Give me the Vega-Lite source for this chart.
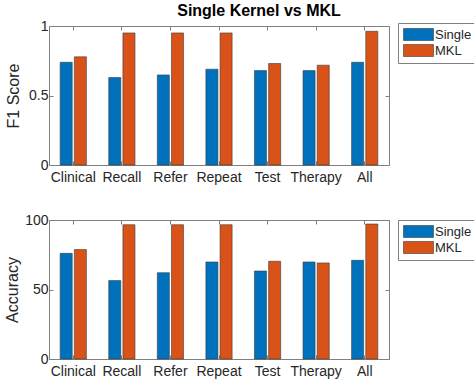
{
  "$schema": "https://vega.github.io/schema/vega-lite/v6.json",
  "autosize": {"type": "none"},
  "padding": {"left": 49, "top": 26, "right": 425, "bottom": 355},
  "background": "white",
  "config": {
    "font": "Liberation Sans",
    "view": {"stroke": "#808080", "strokeWidth": 1},
    "axis": {
      "labelFont": "Liberation Sans",
      "titleFont": "Liberation Sans",
      "labelColor": "#262626",
      "titleColor": "#262626",
      "labelFontSize": 14,
      "titleFontSize": 16,
      "titleFontWeight": "normal",
      "domain": false,
      "grid": false,
      "tickColor": "#808080",
      "tickSize": -4
    },
    "legend": {
      "labelFont": "Liberation Sans",
      "labelFontSize": 13,
      "labelColor": "#262626"
    }
  },
  "data": {
    "values": [
      {"category": "Clinical", "method": "Single", "f1": 0.739, "accuracy": 76.0},
      {"category": "Clinical", "method": "MKL", "f1": 0.778, "accuracy": 78.7},
      {"category": "Recall", "method": "Single", "f1": 0.629, "accuracy": 56.4},
      {"category": "Recall", "method": "MKL", "f1": 0.95, "accuracy": 96.6},
      {"category": "Refer", "method": "Single", "f1": 0.648, "accuracy": 62.1},
      {"category": "Refer", "method": "MKL", "f1": 0.95, "accuracy": 96.6},
      {"category": "Repeat", "method": "Single", "f1": 0.689, "accuracy": 69.8},
      {"category": "Repeat", "method": "MKL", "f1": 0.95, "accuracy": 96.6},
      {"category": "Test", "method": "Single", "f1": 0.679, "accuracy": 63.3},
      {"category": "Test", "method": "MKL", "f1": 0.73, "accuracy": 70.3},
      {"category": "Therapy", "method": "Single", "f1": 0.679, "accuracy": 69.8},
      {"category": "Therapy", "method": "MKL", "f1": 0.718, "accuracy": 69.1},
      {"category": "All", "method": "Single", "f1": 0.739, "accuracy": 71.0},
      {"category": "All", "method": "MKL", "f1": 0.962, "accuracy": 97.1}
    ]
  },
  "vconcat": [
    {
      "width": 340,
      "height": 139,
      "title": {"text": "Single Kernel vs MKL", "anchor": "middle", "dx": 40, "fontSize": 16, "fontWeight": "bold", "color": "black", "font": "Liberation Sans", "offset": 0},
      "resolve": {"axis": {"x": "independent", "y": "independent"}},
      "layer": [
        {
          "mark": {"type": "bar", "stroke": "#3a3a3a", "strokeWidth": 0.6},
          "encoding": {
            "x": {"field": "category", "type": "nominal", "sort": ["Clinical", "Recall", "Refer", "Repeat", "Test", "Therapy", "All"], "scale": {"paddingInner": 0.46, "paddingOuter": 0.23}, "axis": {"title": null, "labelAngle": 0, "labelPadding": 9}},
            "xOffset": {"field": "method", "type": "nominal", "sort": ["Single", "MKL"], "scale": {"paddingInner": 0.15, "paddingOuter": 0}},
            "y": {"field": "f1", "type": "quantitative", "scale": {"domain": [0, 1], "nice": false}, "axis": {"title": "F1 Score", "values": [0, 0.5, 1], "format": ".1~f", "labelPadding": 5, "titlePadding": 7}},
            "color": {"field": "method", "type": "nominal", "sort": ["Single", "MKL"], "scale": {"domain": ["Single", "MKL"], "range": ["#0072BD", "#D95319"]},
              "legend": {"title": null, "orient": "none", "legendX": 349, "legendY": -3, "strokeColor": "#808080", "fillColor": "white", "padding": 5, "symbolType": "M-1,-1H4V1H-1Z", "symbolSize": 144, "symbolStrokeColor": "#3a3a3a", "symbolStrokeWidth": 0.6, "labelOffset": 19, "rowPadding": 1, "symbolOpacity": 1}}
          }
        },
        {
          "mark": {"type": "bar", "opacity": 0},
          "encoding": {
            "x": {"field": "category", "type": "nominal", "sort": ["Clinical", "Recall", "Refer", "Repeat", "Test", "Therapy", "All"], "axis": {"orient": "top", "labels": false, "title": null}},
            "xOffset": {"field": "method", "type": "nominal", "sort": ["Single", "MKL"]},
            "y": {"field": "f1", "type": "quantitative", "axis": {"orient": "right", "labels": false, "title": null, "values": [0, 0.5, 1]}}
          }
        }
      ]
    },
    {
      "width": 340,
      "height": 139,
      "resolve": {"axis": {"x": "independent", "y": "independent"}},
      "layer": [
        {
          "mark": {"type": "bar", "stroke": "#3a3a3a", "strokeWidth": 0.6},
          "encoding": {
            "x": {"field": "category", "type": "nominal", "sort": ["Clinical", "Recall", "Refer", "Repeat", "Test", "Therapy", "All"], "scale": {"paddingInner": 0.46, "paddingOuter": 0.23}, "axis": {"title": null, "labelAngle": 0, "labelPadding": 9}},
            "xOffset": {"field": "method", "type": "nominal", "sort": ["Single", "MKL"], "scale": {"paddingInner": 0.15, "paddingOuter": 0}},
            "y": {"field": "accuracy", "type": "quantitative", "scale": {"domain": [0, 100], "nice": false}, "axis": {"title": "Accuracy", "values": [0, 50, 100], "labelPadding": 5, "titlePadding": 4}},
            "color": {"field": "method", "type": "nominal", "sort": ["Single", "MKL"], "scale": {"domain": ["Single", "MKL"], "range": ["#0072BD", "#D95319"]},
              "legend": {"title": null, "orient": "none", "legendX": 349, "legendY": 0, "strokeColor": "#808080", "fillColor": "white", "padding": 5, "symbolType": "M-1,-1H4V1H-1Z", "symbolSize": 144, "symbolStrokeColor": "#3a3a3a", "symbolStrokeWidth": 0.6, "labelOffset": 19, "rowPadding": 1, "symbolOpacity": 1}}
          }
        },
        {
          "mark": {"type": "bar", "opacity": 0},
          "encoding": {
            "x": {"field": "category", "type": "nominal", "sort": ["Clinical", "Recall", "Refer", "Repeat", "Test", "Therapy", "All"], "axis": {"orient": "top", "labels": false, "title": null}},
            "xOffset": {"field": "method", "type": "nominal", "sort": ["Single", "MKL"]},
            "y": {"field": "accuracy", "type": "quantitative", "axis": {"orient": "right", "labels": false, "title": null, "values": [0, 50, 100]}}
          }
        }
      ]
    }
  ],
  "spacing": 27,
  "resolve": {"scale": {"color": "independent"}, "legend": {"color": "independent"}}
}
